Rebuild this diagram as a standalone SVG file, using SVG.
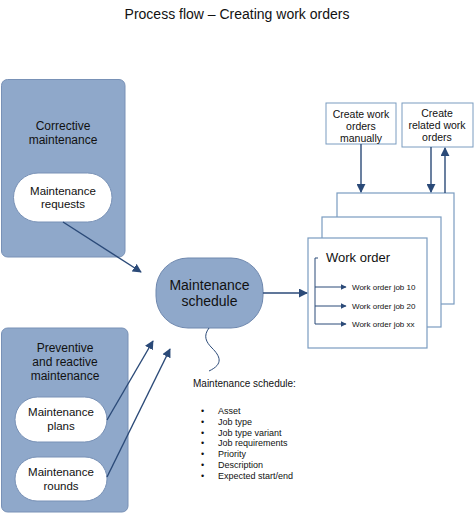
<svg xmlns="http://www.w3.org/2000/svg" width="474" height="513" viewBox="0 0 474 513">
<defs>
<marker id="ah" viewBox="0 0 10 10" refX="9" refY="5" markerWidth="9" markerHeight="9" markerUnits="userSpaceOnUse" orient="auto"><path d="M0,0 L10,5 L0,10 z" fill="#2B4A78"/></marker>
<marker id="ahs" viewBox="0 0 10 10" refX="9" refY="5" markerWidth="6" markerHeight="6" markerUnits="userSpaceOnUse" orient="auto"><path d="M0,0 L10,5 L0,10 z" fill="#2B4A78"/></marker>
</defs>
<style>
text{font-family:"Liberation Sans",Arial,sans-serif;fill:#111}
.grp{fill:#8FA8CA;stroke:#7891B6;stroke-width:1}
.pill{fill:#fff;stroke:#7891B6;stroke-width:1}
.page{fill:#fff;stroke:#7A9CC0;stroke-width:1.2}
.box{fill:#fff;stroke:#7A9CC0;stroke-width:1}
.c{stroke:#2B4A78;stroke-width:1.4;fill:none}
.cs{stroke:#2B4A78;stroke-width:1;fill:none}
.m{text-anchor:middle}
</style>
<rect width="474" height="513" fill="#fff"/>
<text x="237" y="19" class="m" font-size="14">Process flow – Creating work orders</text>

<g id="corrective">
<rect class="grp" x="1.5" y="79.5" width="123.5" height="177.5" rx="6"/>
<text x="63" y="130" class="m" font-size="12">Corrective</text>
<text x="63" y="144" class="m" font-size="12">maintenance</text>
</g>
<g id="requests">
<rect class="pill" x="13.5" y="173" width="98.5" height="49" rx="24.5"/>
<text x="63" y="195" class="m" font-size="11.5">Maintenance</text>
<text x="63" y="208" class="m" font-size="11.5">requests</text>
</g>
<g id="preventive">
<rect class="grp" x="1.5" y="328" width="126.5" height="184" rx="6"/>
<text x="65" y="352" class="m" font-size="12">Preventive</text>
<text x="65" y="366" class="m" font-size="12">and reactive</text>
<text x="65" y="380" class="m" font-size="12">maintenance</text>
</g>
<g id="plans">
<rect class="pill" x="15" y="397" width="92" height="45" rx="22.5"/>
<text x="61" y="416" class="m" font-size="11.5">Maintenance</text>
<text x="61" y="430" class="m" font-size="11.5">plans</text>
</g>
<g id="rounds">
<rect class="pill" x="15" y="457" width="92" height="44" rx="22"/>
<text x="61" y="476" class="m" font-size="11.5">Maintenance</text>
<text x="61" y="490" class="m" font-size="11.5">rounds</text>
</g>
<g id="schedule">
<rect x="156" y="258" width="107" height="70" rx="32" fill="#8FA8CA" stroke="#6F88AE" stroke-width="1"/>
<text x="209.5" y="290" class="m" font-size="14">Maintenance</text>
<text x="209.5" y="306" class="m" font-size="14">schedule</text>
</g>
<g id="manual">
<rect class="box" x="326" y="103" width="70" height="41"/>
<text x="361" y="118" class="m" font-size="10.5">Create work</text>
<text x="361" y="130" class="m" font-size="10.5">orders</text>
<text x="361" y="142" class="m" font-size="10.5">manually</text>
</g>
<g id="related">
<rect class="box" x="402" y="103" width="71" height="44"/>
<text x="437" y="117" class="m" font-size="10.5">Create</text>
<text x="437" y="129" class="m" font-size="10.5">related work</text>
<text x="437" y="141" class="m" font-size="10.5">orders</text>
</g>
<g id="workorders">
<rect class="page" x="337" y="193" width="117" height="111"/>
<rect class="page" x="322" y="217" width="119" height="110"/>
<rect class="page" x="308" y="238" width="119" height="110"/>
<text x="326" y="262" font-size="13">Work order</text>
<path class="cs" d="M318,258 H315 V324"/>
<path class="cs" d="M315,287 H346" marker-end="url(#ahs)"/>
<path class="cs" d="M315,306 H346" marker-end="url(#ahs)"/>
<path class="cs" d="M315,324 H346" marker-end="url(#ahs)"/>
<text x="352" y="290" font-size="8">Work order job 10</text>
<text x="352" y="309" font-size="8">Work order job 20</text>
<text x="352" y="327" font-size="8">Work order job xx</text>
</g>
<g id="notes">
<text x="193" y="387" font-size="10">Maintenance schedule:</text>
<g font-size="9">
<text x="201" y="414">•</text><text x="218" y="414">Asset</text>
<text x="201" y="425">•</text><text x="218" y="425">Job type</text>
<text x="201" y="436">•</text><text x="218" y="436">Job type variant</text>
<text x="201" y="446">•</text><text x="218" y="446">Job requirements</text>
<text x="201" y="457">•</text><text x="218" y="457">Priority</text>
<text x="201" y="468">•</text><text x="218" y="468">Description</text>
<text x="201" y="479">•</text><text x="218" y="479">Expected start/end</text>
</g>
</g>
<g id="connectors">
<path class="c" d="M63,222 L141,272" marker-end="url(#ah)"/>
<path class="c" d="M107,420 L153,341" marker-end="url(#ah)"/>
<path class="c" d="M107,477 L170,349" marker-end="url(#ah)"/>
<path class="c" d="M263,293 L307,293" marker-end="url(#ah)"/>
<path class="c" d="M361,144 L361,192" marker-end="url(#ah)"/>
<path class="c" d="M431,147 L431,192" marker-end="url(#ah)"/>
<path class="c" d="M445,193 L445,148" marker-end="url(#ah)"/>
<path class="cs" d="M209,328 C203,336 206,342 212,348 C220,356 224,364 209,371"/>
</g>
</svg>
